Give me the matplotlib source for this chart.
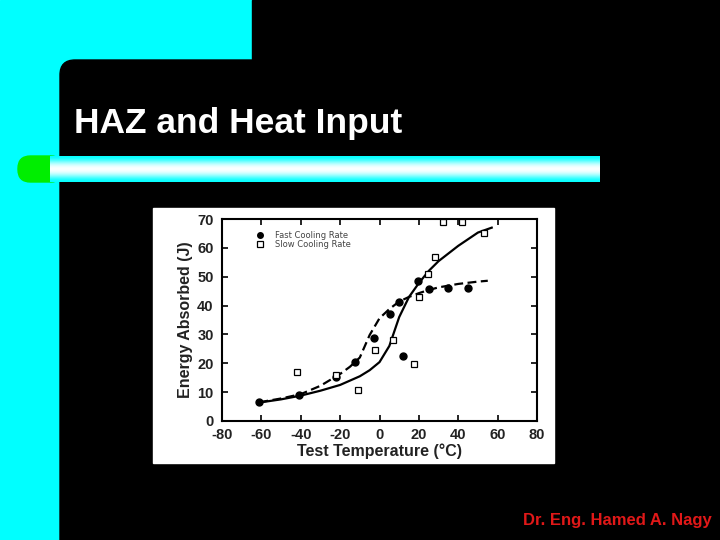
import numpy as np
import matplotlib
matplotlib.use('Agg')
import matplotlib.pyplot as plt
from matplotlib.patches import Rectangle, FancyBboxPatch
from matplotlib.colors import LinearSegmentedColormap

plt.rcParams['axes.unicode_minus'] = False

# measured data points
fast_temp = [-61, -41, -22, -12.5, -3, 5.5, 10, 12, 19.5, 25, 35, 45]
fast_energy = [6.6, 9.0, 15.4, 20.4, 28.6, 37.1, 41.4, 22.4, 48.4, 45.7, 46.1, 46.1]
slow_temp = [-42, -22, -11, -2.5, 7, 17.5, 20, 24.5, 28, 32, 42, 53]
slow_energy = [17.0, 16.0, 10.9, 24.5, 28.2, 19.6, 42.9, 51.1, 56.8, 69.1, 69.1, 65.1]

# fit curves
fast_curve_t = [-61, -50, -40, -30, -20, -15, -10, -5, 0, 5, 10, 15, 20, 25, 30, 40, 50, 55]
fast_curve_e = [6.5, 7.8, 9.3, 12.2, 16.3, 18.8, 22.0, 29.8, 35.6, 38.8, 41.4, 43.0, 44.3, 45.4, 46.3, 47.5, 48.3, 48.6]
slow_curve_t = [-61, -50, -40, -30, -20, -10, -5, 0, 5, 10, 15, 20, 25, 30, 40, 50, 57]
slow_curve_e = [6.4, 7.5, 8.8, 10.5, 12.5, 15.5, 17.6, 20.4, 26.0, 36.0, 43.0, 47.8, 52.0, 55.4, 60.7, 65.3, 67.0]

x_ticks = [-80, -60, -40, -20, 0, 20, 40, 60, 80]
y_ticks = [0, 10, 20, 30, 40, 50, 60, 70]

W, H = 720, 540
fig = plt.figure(figsize=(7.2, 5.4), dpi=100)

# slide background, in pixel coordinates
bg = fig.add_axes([0, 0, 1, 1])
bg.set_xlim(0, W)
bg.set_ylim(H, 0)
bg.axis('off')
bg.add_patch(Rectangle((0, 0), W, H, color='#00FFFF'))
bg.add_patch(Rectangle((252, 0), W - 252, 70, color='black'))
bg.add_patch(FancyBboxPatch((75, 75), W, H, boxstyle='round,pad=15', color='black'))

# title bar: green cap + cyan/white gradient
bg.add_patch(FancyBboxPatch((30.5, 168.5), 20, 1, boxstyle='round,pad=12.5', color='#00EE00', zorder=2))
grad = np.array([0, 0.6, 1, 1, 0.6, 0])
gradient = np.vstack([grad] * 2).T
bg.imshow(gradient, cmap=LinearSegmentedColormap.from_list('c', ['#00FFFF', 'white']),
          extent=[50, 600, 182, 156], aspect='auto', interpolation='bicubic', zorder=3)
bg.set_xlim(0, W)
bg.set_ylim(H, 0)

bg.text(74, 123, 'HAZ and Heat Input', color='white', fontsize=25.5, fontweight='bold',
        family='Liberation Sans', va='center', ha='left')
bg.text(712, 520, 'Dr. Eng. Hamed A. Nagy', color='#E01818', fontsize=12, fontweight='bold',
        family='Liberation Sans', va='center', ha='right')

# white picture area
bg.add_patch(Rectangle((153, 208), 401, 255, color='white', zorder=2))

ax = fig.add_axes([222 / W, 1 - 421 / H, 315 / W, 202 / H])
ax.set_facecolor('white')
ax.plot(slow_curve_t, slow_curve_e, color='black', lw=1.6)
ax.plot(fast_curve_t, fast_curve_e, color='black', lw=1.6, ls=(0, (4, 2)))
ax.plot(fast_temp, fast_energy, 'o', color='black', ms=5, label='Fast Cooling Rate')
ax.plot(slow_temp, slow_energy, 's', mfc='white', mec='black', ms=5, mew=0.9,
        label='Slow Cooling Rate')

ax.set_xlim(-80, 80)
ax.set_ylim(0, 70)
ax.set_xticks(x_ticks)
ax.set_yticks(y_ticks)
for lbl in ax.get_xticklabels() + ax.get_yticklabels():
    lbl.set_fontweight('bold')
    lbl.set_family('Liberation Sans')
ax.tick_params(direction='in', length=4, width=1.2, labelsize=10.5, top=True, right=True,
               labelcolor='#222222')
ax.tick_params(axis='x', pad=5)
ax.tick_params(axis='y', pad=6)
for s in ax.spines.values():
    s.set_linewidth(1.5)
ax.set_xlabel('Test Temperature (°C)', fontsize=11.5, fontweight='bold', family='Liberation Sans',
              color='#222222', labelpad=1)
ax.set_ylabel('Energy Absorbed (J)', fontsize=11.5, fontweight='bold', family='Liberation Sans',
              color='#222222', labelpad=3)
ax.legend(loc='upper left', bbox_to_anchor=(0.07, 0.98), frameon=False, fontsize=6,
          handletextpad=0.8, labelspacing=0.1, markerscale=0.8, labelcolor='#444444')

fig.savefig('out.png', dpi=100)
